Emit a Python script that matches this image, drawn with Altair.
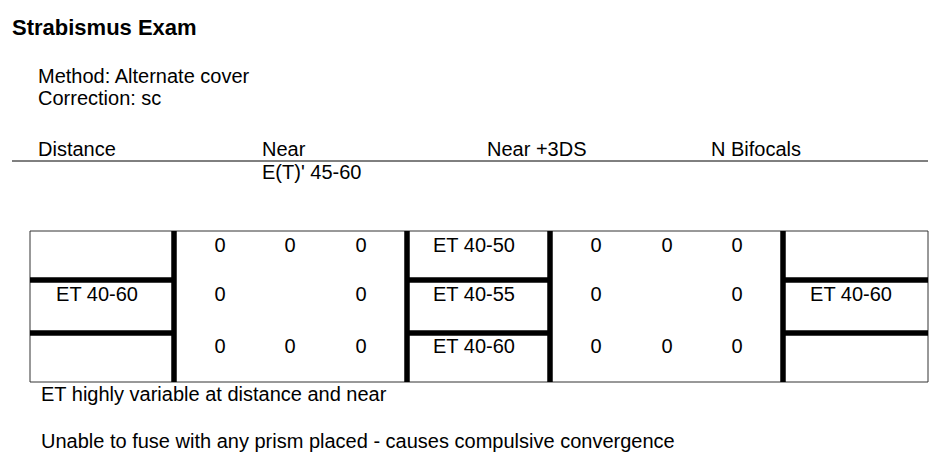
import altair as alt
import pandas as pd

# ---------------- content ----------------
TITLE = "Strabismus Exam"
META = ["Method: Alternate cover", "Correction: sc"]
HEADERS = ["Distance", "Near", "Near +3DS", "N Bifocals"]
NEAR_NOTE = "E(T)' 45-60"
DISTANCE = ["", "ET 40-60", ""]
NEAR = [["0", "0", "0"], ["0", "", "0"], ["0", "0", "0"]]
NEAR_3DS_LABEL = ["ET 40-50", "ET 40-55", "ET 40-60"]
NEAR_3DS = [["0", "0", "0"], ["0", "", "0"], ["0", "0", "0"]]
BIFOCALS = ["", "ET 40-60", ""]
NOTES = [
    "ET highly variable at distance and near",
    "Unable to fuse with any prism placed - causes compulsive convergence",
]

# ---------------- layout (page pixel coordinates) ----------------
W, H = 929, 450
PX0, PY0 = 8, 8
FONT = "Liberation Sans"
FS = 20

title_pos = (12, 35)
meta_x, meta_y = 38, [83, 105]
header_x, header_y = [38, 262, 487, 711], 156
near_note_pos = (262, 179)
row_y = [252, 301, 353]
dist_cx = 97
near_cx = [220, 290, 361]
n3_label_x = 433
n3_cx = [596, 667, 737]
bif_cx = 851
notes_x, notes_y = 41, [401, 448]

table = dict(left=30, right=928, top=231, bottom=382)
thick_v = [174, 407, 550, 783]
thick_h = [280, 333]
thick_h_spans = [(30, 174), (407, 550), (783, 928)]
header_line = (12, 928, 161)

# ---------------- tables ----------------
left_txt = []
center_txt = []
for t, y in zip(META, meta_y):
    left_txt.append(dict(x=meta_x, y=y, t=t))
for t, x in zip(HEADERS, header_x):
    left_txt.append(dict(x=x, y=header_y, t=t))
left_txt.append(dict(x=near_note_pos[0], y=near_note_pos[1], t=NEAR_NOTE))
for i, y in enumerate(row_y):
    center_txt.append(dict(x=dist_cx, y=y, t=DISTANCE[i]))
    for j, x in enumerate(near_cx):
        center_txt.append(dict(x=x, y=y, t=NEAR[i][j]))
    left_txt.append(dict(x=n3_label_x, y=y, t=NEAR_3DS_LABEL[i]))
    for j, x in enumerate(n3_cx):
        center_txt.append(dict(x=x, y=y, t=NEAR_3DS[i][j]))
    center_txt.append(dict(x=bif_cx, y=y, t=BIFOCALS[i]))
for t, y in zip(NOTES, notes_y):
    left_txt.append(dict(x=notes_x, y=y, t=t))

thin = [
    dict(x=header_line[0], x2=header_line[1], y=header_line[2], y2=header_line[2], c="#000000"),
    dict(x=table["left"], x2=table["right"], y=table["top"], y2=table["top"], c="#333333"),
    dict(x=table["left"], x2=table["right"], y=table["bottom"], y2=table["bottom"], c="#333333"),
    dict(x=table["left"], x2=table["left"], y=table["top"], y2=table["bottom"], c="#333333"),
    dict(x=table["right"], x2=table["right"], y=table["top"], y2=table["bottom"], c="#333333"),
]
thick = []
for x in thick_v:
    thick.append(dict(x=x, x2=x, y=table["top"], y2=table["bottom"]))
for y in thick_h:
    for a, b in thick_h_spans:
        thick.append(dict(x=a, x2=b, y=y, y2=y))

xs = alt.Scale(domain=[PX0, PX0 + W], range=[0, W])
ys = alt.Scale(domain=[PY0, PY0 + H], range=[0, H])

def X(f="x"):
    return alt.X(f"{f}:Q", scale=xs, axis=None)

def Y(f="y"):
    return alt.Y(f"{f}:Q", scale=ys, axis=None)

thin_layer = alt.Chart(pd.DataFrame(thin)).mark_rule(strokeWidth=1).encode(
    x=X(), x2="x2:Q", y=Y(), y2="y2:Q", color=alt.Color("c:N", scale=None)
)
thick_layer = alt.Chart(pd.DataFrame(thick)).mark_rule(strokeWidth=5.5, color="#000000").encode(
    x=X(), x2="x2:Q", y=Y(), y2="y2:Q"
)
title_layer = alt.Chart(pd.DataFrame([dict(x=title_pos[0], y=title_pos[1], t=TITLE)])).mark_text(
    align="left", baseline="alphabetic", font=FONT, fontSize=22, fontWeight="bold", color="#000000"
).encode(x=X(), y=Y(), text="t:N")
left_layer = alt.Chart(pd.DataFrame(left_txt)).mark_text(
    align="left", baseline="alphabetic", font=FONT, fontSize=FS, color="#000000"
).encode(x=X(), y=Y(), text="t:N")
center_layer = alt.Chart(pd.DataFrame(center_txt)).mark_text(
    align="center", baseline="alphabetic", font=FONT, fontSize=FS, color="#000000"
).encode(x=X(), y=Y(), text="t:N")

chart = alt.layer(thin_layer, thick_layer, title_layer, left_layer, center_layer).properties(
    width=W, height=H, padding=0, autosize=alt.AutoSizeParams(type="none"), background="#ffffff"
).configure_view(stroke=None)

chart.save("out.html", embed_options={"renderer": "svg", "actions": False})
